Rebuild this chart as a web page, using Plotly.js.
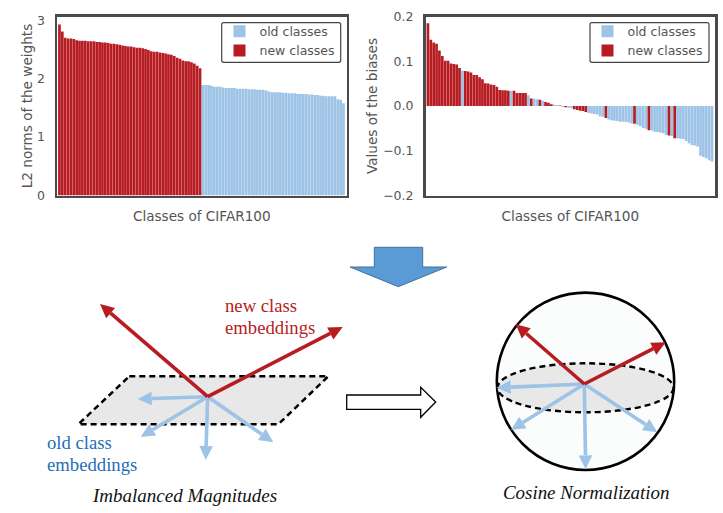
<!DOCTYPE html>
<html>
<head>
<meta charset="utf-8">
<script src="https://cdn.plot.ly/plotly-3.0.1.min.js"></script>
<style>html,body{margin:0;padding:0;background:#fff}#chart{width:723px;height:513px}</style>
</head>
<body>
<div id="chart"></div>
<script>
// ---------- chart data ----------
var normsNew = [2.93,2.81,2.70,2.69,2.69,2.68,2.66,2.65,2.65,2.65,
                2.64,2.64,2.64,2.63,2.63,2.62,2.62,2.61,2.60,2.60,
                2.59,2.58,2.57,2.56,2.55,2.55,2.54,2.53,2.53,2.52,
                2.51,2.49,2.47,2.46,2.46,2.45,2.44,2.43,2.42,2.41,
                2.39,2.36,2.34,2.31,2.30,2.30,2.28,2.26,2.22,2.18];
var normsOld = [1.89,1.89,1.89,1.88,1.86,1.86,1.86,1.85,1.84,1.84,
                1.84,1.84,1.83,1.83,1.83,1.83,1.82,1.82,1.82,1.81,
                1.81,1.81,1.80,1.78,1.77,1.77,1.77,1.77,1.76,1.76,
                1.75,1.75,1.75,1.74,1.74,1.74,1.74,1.73,1.73,1.72,
                1.72,1.71,1.71,1.70,1.70,1.70,1.70,1.65,1.64,1.58];
var biases = [.185,.148,.142,.139,.124,.112,.101,.101,.095,.094,
              .093,.085,.079,.078,.077,.075,.069,.069,.064,.060,
              .051,.050,.048,.047,.043,.036,.035,.035,.034,.034,
              .034,.029,.029,.029,.029,.024,.017,.016,.015,.014,
              .012,.009,.007,.004,.003,.002,.001,-.002,-.003,-.004,
              -.005,-.0075,-.009,-.0105,-.011,-.0135,-.0155,-.0165,-.018,-.019,
              -.023,-.024,-.027,-.030,-.032,-.033,-.0335,-.035,-.035,-.036,
              -.037,-.039,-.0395,-.042,-.0455,-.049,-.051,-.054,-.0545,-.0575,
              -.058,-.059,-.061,-.065,-.066,-.067,-.072,-.072,-.073,-.074,
              -.078,-.0835,-.087,-.0885,-.0905,-.111,-.114,-.117,-.1215,-.124];
var biasNewRanks = [0,1,2,3,4,5,6,7,8,9,10,11,13,14,15,16,17,18,19,20,21,22,23,24,25,26,27,28,
                    30,31,32,33,34,36,39,41,42,43,46,48,51,52,53,54,55,62,72,77,84,86];
var oldLabel = "old classes", newLabel = "new classes";
var xTitle = "Classes of CIFAR100";
var yTitleLeft = "L2 norms of the weights", yTitleRight = "Values of the biases";
var leftTicks = [0,1,2,3];
var rightTicks = [-0.2,-0.1,0,0.1,0.2];
var rightTickText = ["\u22120.2","\u22120.1","0.0","0.1","0.2"];

// ---------- diagram data (page pixels) ----------
var plane = [[129.3,376.3],[328.3,376.3],[278.3,424.3],[78.3,424.3]];
var planeOrigin = [207.7,396.7];
var planeRed = [[100,304],[342.7,327]];
var planeBlue = [[137.7,399],[140.7,437],[205.7,460],[273.3,442.3]];
var sphereCenter = [585.5,381.3], sphereRadius = 88.7;
var discCenter = [585.5,387.8], discRadii = [88,24.5];
var sphereOrigin = [584.3,384];
var sphereRed = [[515.7,324.3],[665.7,342.3]];
var sphereBlue = [[496.7,387.7],[511,430],[585.7,469.3],[657.3,432.3]];
var downArrow = [[374.3,247.3],[422.7,247.3],[422.7,267],[446.7,267],[398.3,286.7],[350,267],[374.3,267]];
var rightArrow = [[346.7,395],[420.7,395],[420.7,387.3],[435.7,402],[420.7,417.3],[420.7,409.3],[346.7,409.3]];
var legendBoxes = [[221.7,22.7,340.7,62.3],[590,22.7,709,62.3]];

// ---------- styles ----------
var RED="#b71c23", BLUE="#9dc3e6", GREY="#555555", EDGE="#4a4a4a", W=723, H=513;
var SANS="'DejaVu Sans',sans-serif", SERIF="'Liberation Serif',serif";
function px(x){return x/W;} function py(y){return 1-y/H;}
function poly(pts){return pts.map(function(p,i){return (i?"L":"M")+px(p[0])+","+py(p[1]);}).join("")+"Z";}
function shape(path,fill,line,width,dash){
  return {type:"path",xref:"paper",yref:"paper",path:path,fillcolor:fill||"rgba(0,0,0,0)",
          line:{color:line||"rgba(0,0,0,0)",width:width||0,dash:dash||"solid"}};
}
function ellipse(c,rx,ry,fill,dash){
  return {type:"circle",xref:"paper",yref:"paper",x0:px(c[0]-rx),x1:px(c[0]+rx),y0:py(c[1]+ry),y1:py(c[1]-ry),
          fillcolor:fill,line:{color:"#000",width:dash?2.4:2.6,dash:dash||"solid"}};
}
function arrow(o,t,col){
  var dx=t[0]-o[0],dy=t[1]-o[1],d=Math.sqrt(dx*dx+dy*dy),ux=dx/d,uy=dy/d,L=14,H2=6.8;
  var b=[t[0]-ux*L,t[1]-uy*L];
  return [
    shape("M"+px(o[0])+","+py(o[1])+"L"+px(b[0])+","+py(b[1]),null,col,3.6),
    shape(poly([t,[b[0]-uy*H2,b[1]+ux*H2],[b[0]+uy*H2,b[1]-ux*H2]]),col)
  ];
}
function roundBox(b){
  var r=2,x0=b[0],y0=b[1],x1=b[2],y1=b[3];
  function P(x,y){return px(x)+","+py(y);}
  return "M"+P(x0+r,y0)+"L"+P(x1-r,y0)+"Q"+P(x1,y0)+" "+P(x1,y0+r)+"L"+P(x1,y1-r)+"Q"+P(x1,y1)+" "+P(x1-r,y1)+
         "L"+P(x0+r,y1)+"Q"+P(x0,y1)+" "+P(x0,y1-r)+"L"+P(x0,y0+r)+"Q"+P(x0,y0)+" "+P(x0+r,y0)+"Z";
}
var shapes=[];
legendBoxes.forEach(function(b){shapes.push(shape(roundBox(b),"#ffffff","#444444",1.2));});
shapes.push(shape(poly(plane),"#e8e8e8","#000",2.5,"6px,4px"));
planeBlue.forEach(function(t){shapes=shapes.concat(arrow(planeOrigin,t,BLUE));});
planeRed.forEach(function(t){shapes=shapes.concat(arrow(planeOrigin,t,RED));});
shapes.push(ellipse(sphereCenter,sphereRadius,sphereRadius,"#fbfdfd"));
shapes.push(ellipse(discCenter,discRadii[0],discRadii[1],"#e8e8e8","6px,4px"));
sphereBlue.forEach(function(t){shapes=shapes.concat(arrow(sphereOrigin,t,BLUE));});
sphereRed.forEach(function(t){shapes=shapes.concat(arrow(sphereOrigin,t,RED));});
shapes.push(shape(poly(downArrow),"#5b9bd5","#41719c",1));
shapes.push(shape(poly(rightArrow),"#ffffff","#000000",1.3));

function note(text,x,y,col,size,italic,anchor){
  return {text:text,x:px(x),y:py(y),xref:"paper",yref:"paper",showarrow:false,xanchor:anchor||"left",yanchor:"middle",
          font:{family:SERIF,size:size,color:col,style:italic?"italic":"normal"}};
}
var annotations=[
  note("new class",223,305.5,RED,18.7),
  note("embeddings",223,327,RED,18.7),
  note("old class",45,442,"#1f6fb5",18.7),
  note("embeddings",45,464,"#1f6fb5",18.7),
  note("Imbalanced Magnitudes",184.5,495,"#111",19,true,"center"),
  note("Cosine Normalization",586,492,"#111",18.9,true,"center")
];

// ---------- traces ----------
function idx(n,start){var a=[];for(var i=0;i<n;i++)a.push(i+start);return a;}
var biasOldRanks=biases.map(function(_,i){return i;}).filter(function(i){return biasNewRanks.indexOf(i)<0;});
function bar(x,y,col,name,xa,ya,leg){
  return {type:"bar",x:x,y:y,name:name,xaxis:xa,yaxis:ya,legend:leg,width:0.94,
          marker:{color:col,line:{width:0}},hoverinfo:"skip"};
}
var traces=[
  bar(idx(50,50),normsOld,BLUE,oldLabel,"x","y","legend"),
  bar(idx(50,0),normsNew,RED,newLabel,"x","y","legend"),
  bar(biasOldRanks,biasOldRanks.map(function(i){return biases[i];}),BLUE,oldLabel,"x2","y2","legend2"),
  bar(biasNewRanks,biasNewRanks.map(function(i){return biases[i];}),RED,newLabel,"x2","y2","legend2")
];
function xAxis(x0,x1,ya){
  return {domain:[px(x0),px(x1)],range:[-0.85,100.05],anchor:ya,showticklabels:false,ticks:"",showgrid:false,zeroline:false,
          showline:true,mirror:true,linewidth:2.5,linecolor:EDGE,fixedrange:true,
          title:{text:xTitle,font:{family:SANS,size:13.6,color:GREY},standoff:15}};
}
function yAxis(range,vals,text,title,xa,standoff){
  return {domain:[py(195.5),py(16.5)],range:range,anchor:xa,tickmode:"array",tickvals:vals,ticktext:text,ticks:"",showgrid:false,zeroline:false,
          showline:true,mirror:true,linewidth:2.5,linecolor:EDGE,ticklabelstandoff:7,fixedrange:true,
          tickfont:{family:SANS,size:12.5,color:GREY},
          title:{text:title,font:{family:SANS,size:13.6,color:GREY},standoff:standoff}};
}
function legend(x,y){
  return {x:px(x),y:py(y),xanchor:"left",yanchor:"top",bgcolor:"rgba(0,0,0,0)",borderwidth:0,
          traceorder:"normal",font:{family:SANS,size:12.5,color:GREY},itemclick:false,itemdoubleclick:false};
}
var layout={
  width:W,height:H,margin:{l:0,r:0,t:0,b:0},paper_bgcolor:"#fff",plot_bgcolor:"#fff",
  barmode:"overlay",showlegend:true,
  xaxis:xAxis(57,346.5,"y"),
  yaxis:yAxis([0,3.065],leftTicks,leftTicks.map(String),yTitleLeft,"x",2),
  xaxis2:xAxis(425.5,715,"y2"),
  yaxis2:yAxis([-0.2,0.2],rightTicks,rightTickText,yTitleRight,"x2",3),
  legend:legend(219.5,16.5),
  legend2:legend(587.5,16.5),
  shapes:shapes,annotations:annotations
};
Plotly.newPlot("chart",traces,layout,{displayModeBar:false,staticPlot:true});
</script>
</body>
</html>
